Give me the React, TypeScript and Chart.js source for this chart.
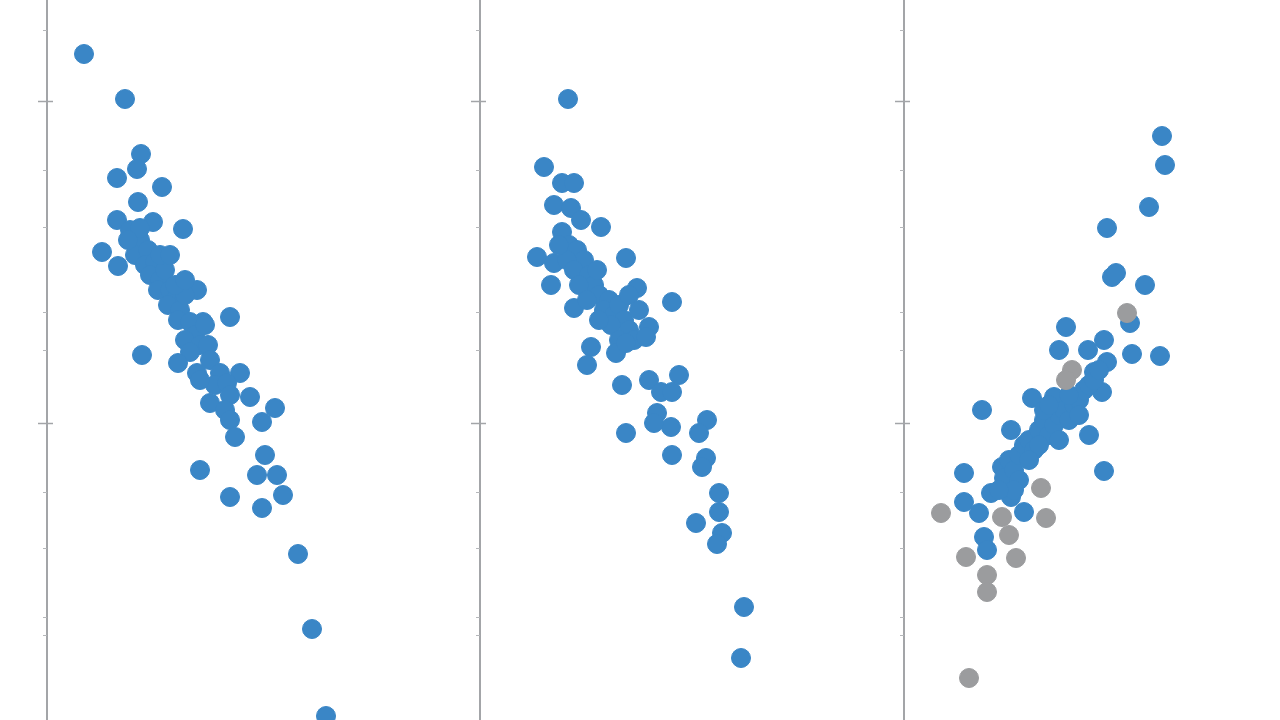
import React, { useEffect, useRef } from "react";
import { Chart, registerables } from "chart.js";

Chart.register(...registerables);

// ---- data (x, y) in chart units ----
const panel1Blue: [number, number][] = [
  [3.7, 66.6], [7.8, 62.1], [9.4, 56.6], [9.0, 55.1], [7.0, 54.2], [11.5, 53.3],
  [9.1, 51.8], [7.0, 50.0], [10.6, 49.8], [13.6, 49.1], [5.5, 46.8], [7.1, 45.4],
  [18.3, 40.3], [15.0, 43.0], [15.6, 39.8], [9.5, 36.5],
  [8.3, 49.0], [9.3, 48.0], [8.8, 46.5], [10.1, 47.0], [9.8, 45.5], [10.8, 45.8],
  [10.3, 44.5], [11.3, 44.0], [11.8, 45.0], [11.1, 43.0], [12.3, 43.0], [12.8, 42.0],
  [12.1, 41.5], [13.3, 41.0], [13.8, 42.5], [13.1, 40.0], [14.3, 39.8], [14.8, 38.5],
  [13.8, 38.0], [15.3, 37.5], [16.1, 37.5], [15.8, 39.5], [14.3, 36.8], [13.1, 35.7],
  [16.3, 36.0], [15.0, 34.7], [17.3, 34.7], [19.3, 34.7], [16.8, 33.5], [18.0, 33.7],
  [20.3, 32.3], [18.3, 32.5], [16.3, 31.7], [17.8, 31.0], [18.3, 30.0], [18.8, 28.3],
  [15.3, 34.0], [9.3, 49.2], [8.1, 48.0], [11.3, 46.5], [12.3, 46.5], [12.8, 43.5],
  [13.8, 44.0],
  [22.8, 31.2], [21.5, 29.8], [15.3, 25.0], [21.8, 26.5], [21.0, 24.5], [23.0, 24.5],
  [23.6, 22.5], [18.3, 22.3], [21.5, 21.2], [25.1, 16.6], [26.5, 9.1], [27.9, 0.4],
];

const panel2Blue: [number, number][] = [
  [8.8, 62.1], [6.4, 55.3], [8.2, 53.7], [9.4, 53.7], [7.4, 51.5], [9.1, 51.2],
  [10.1, 50.0], [12.1, 49.3], [5.7, 46.3], [7.4, 45.7], [14.6, 46.2], [7.1, 43.5],
  [9.4, 41.2], [15.7, 43.2], [19.2, 41.8], [16.9, 39.3], [11.1, 37.3],
  [8.2, 48.8], [8.9, 47.5], [9.7, 47.0], [10.4, 46.0], [8.7, 46.0], [9.4, 45.0],
  [10.9, 44.5], [11.4, 43.5], [9.9, 43.5], [11.9, 42.5], [12.9, 42.0], [12.4, 41.0],
  [13.4, 40.5], [13.9, 41.5], [14.4, 40.0], [13.1, 39.5], [14.9, 39.0], [15.4, 38.0],
  [13.9, 38.0], [11.9, 40.0], [10.7, 42.0], [11.7, 45.0], [7.9, 47.5], [14.9, 42.5],
  [15.9, 41.0],
  [10.7, 35.5], [13.6, 36.7], [14.6, 37.7], [16.6, 38.3], [14.2, 33.5], [16.9, 34.0],
  [18.1, 32.8], [19.2, 32.8], [19.9, 34.5], [17.7, 30.7], [19.1, 29.3], [17.4, 29.7],
  [14.6, 28.7], [19.2, 26.5], [22.7, 30.0], [21.9, 28.7], [22.6, 26.2], [22.2, 25.3],
  [23.9, 22.7], [23.9, 20.8], [21.6, 19.7], [24.2, 18.7], [23.7, 17.6], [26.4, 11.3],
  [26.1, 6.2],
];

const panel3Blue: [number, number][] = [
  [25.8, 58.4], [26.1, 55.5], [24.5, 51.3], [20.3, 49.2], [20.8, 44.3], [21.2, 44.7],
  [24.1, 43.5], [22.6, 39.7], [20.0, 38.0], [16.2, 39.3], [15.5, 37.0], [18.4, 37.0],
  [20.3, 35.8], [22.8, 36.6], [25.6, 36.4], [19.8, 32.8], [19.0, 34.8], [7.8, 31.0],
  [12.8, 32.2], [15.0, 32.3], [10.7, 29.0], [18.5, 28.5], [20.0, 24.9], [6.0, 24.7],
  [6.0, 21.8], [7.5, 20.7], [8.0, 18.3], [8.3, 17.0], [8.7, 22.7], [9.8, 25.3],
  [10.7, 22.3], [12.0, 20.8],
  [10.5, 26.0], [10.0, 24.2], [11.0, 25.0], [11.5, 26.5], [12.0, 27.5], [12.5, 28.0],
  [13.0, 27.0], [13.5, 29.0], [14.0, 30.0], [14.5, 28.5], [15.0, 29.5], [15.5, 30.5],
  [16.0, 31.0], [16.5, 30.0], [17.0, 31.5], [17.5, 32.0], [18.0, 33.0], [18.5, 33.5],
  [19.0, 34.0], [19.5, 35.0], [13.5, 27.5], [12.5, 26.0], [11.5, 24.0], [14.0, 31.0],
  [15.5, 28.0], [16.5, 32.5], [17.5, 30.5], [14.5, 31.5], [11.0, 23.0], [9.5, 23.0],
];

const panel3Gray: [number, number][] = [
  [22.3, 40.7], [16.8, 35.0], [16.2, 34.0], [13.7, 23.2], [14.2, 20.2], [9.8, 20.3],
  [10.5, 18.5], [11.2, 16.2], [6.2, 16.3], [3.7, 20.7], [8.3, 14.5], [8.3, 12.8],
  [6.5, 4.2],
];

const majorTicks = [61.9, 29.7];
const minorTicks = [69.0, 55.0, 49.3, 40.8, 37.0, 22.8, 17.2, 10.3, 8.5];

const Y_MIN = 0;
const Y_MAX = 72;

const BLUE = "#3a86c6";
const GRAY = "#9b9c9e";
const AXIS = "#a3a5a8";

type Panel = {
  left: number;
  width: number;
  xMax: number;
  series: { data: [number, number][]; color: string }[];
};

const PAD = 20;

const panels: Panel[] = [
  { left: 47, width: 434, xMax: 43.4, series: [{ data: panel1Blue, color: BLUE }] },
  { left: 480, width: 424, xMax: 42.4, series: [{ data: panel2Blue, color: BLUE }] },
  {
    left: 904,
    width: 376,
    xMax: 37.6,
    series: [
      { data: panel3Gray, color: GRAY },
      { data: panel3Blue, color: BLUE },
    ],
  },
];

const axisPlugin = {
  id: "leftAxis",
  beforeDatasetsDraw(chart: any) {
    const { ctx, chartArea } = chart;
    const y = chart.scales.y;
    const x0 = chartArea.left;
    ctx.save();
    ctx.strokeStyle = AXIS;
    ctx.lineWidth = 2;
    ctx.beginPath();
    ctx.moveTo(x0, 0);
    ctx.lineTo(x0, chart.height);
    ctx.stroke();
    ctx.lineWidth = 1.5;
    majorTicks.forEach((v) => {
      const py = Math.round(y.getPixelForValue(v)) + 0.5;
      ctx.beginPath();
      ctx.moveTo(x0 - 9, py);
      ctx.lineTo(x0 + 6, py);
      ctx.stroke();
    });
    ctx.lineWidth = 1;
    ctx.strokeStyle = "#b5b7ba";
    minorTicks.forEach((v) => {
      const py = Math.round(y.getPixelForValue(v)) + 0.5;
      ctx.beginPath();
      ctx.moveTo(x0 - 4, py);
      ctx.lineTo(x0, py);
      ctx.stroke();
    });
    ctx.restore();
  },
};

function PanelChart({ panel }: { panel: Panel }) {
  const ref = useRef<HTMLCanvasElement | null>(null);
  useEffect(() => {
    if (!ref.current) return;
    const chart = new Chart(ref.current, {
      type: "scatter",
      data: {
        datasets: panel.series.map((s) => ({
          data: s.data.map(([x, y]) => ({ x, y })),
          backgroundColor: s.color,
          borderColor: s.color,
          borderWidth: 1,
          pointRadius: 9.5,
          pointHoverRadius: 9.5,
          clip: false as any,
        })),
      },
      options: {
        animation: false,
        responsive: true,
        maintainAspectRatio: false,
        layout: { autoPadding: false, padding: { left: PAD, right: 0, top: 0, bottom: 0 } },
        plugins: { legend: { display: false }, tooltip: { enabled: false } },
        events: [],
        scales: {
          x: { type: "linear", min: 0, max: panel.xMax, display: false },
          y: { type: "linear", min: Y_MIN, max: Y_MAX, display: false },
        },
      },
      plugins: [axisPlugin],
    });
    return () => chart.destroy();
  }, [panel]);
  return (
    <div
      style={{
        position: "absolute",
        left: panel.left - PAD,
        top: 0,
        width: panel.width + PAD,
        height: 720,
      }}
    >
      <canvas ref={ref} />
    </div>
  );
}

export default function App() {
  return (
    <div
      style={{
        position: "fixed",
        left: 0,
        top: 0,
        width: 1280,
        height: 720,
        overflow: "hidden",
        background: "#ffffff",
      }}
    >
      {panels.map((p, i) => (
        <PanelChart key={i} panel={p} />
      ))}
    </div>
  );
}
